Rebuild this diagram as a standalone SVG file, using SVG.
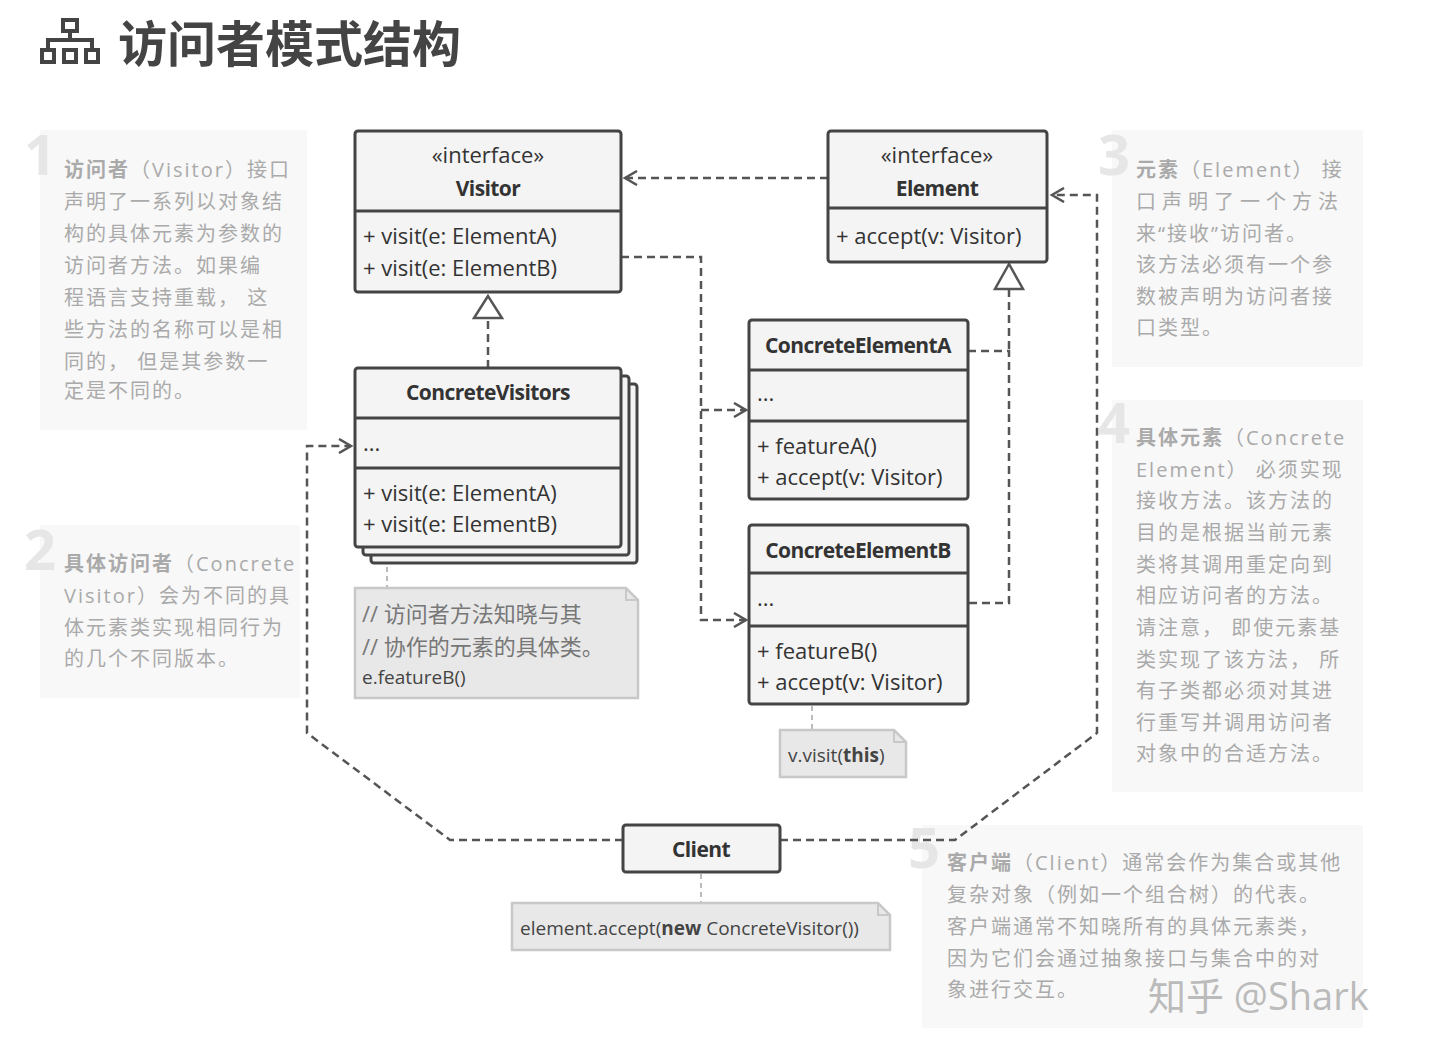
<svg xmlns="http://www.w3.org/2000/svg" width="1440" height="1047" viewBox="0 0 1440 1047">
<defs>
<style>
text{font-family:"Open Sans","Noto Sans CJK SC",sans-serif;}
.box{fill:#f4f4f4;stroke:#444;stroke-width:3;}
.div{stroke:#444;stroke-width:3;}
.t{font-size:22px;fill:#333;}
.b{font-size:21px;font-weight:bold;fill:#333;letter-spacing:-0.6px;}
.c{text-anchor:middle;}
.dash{fill:none;stroke:#555;stroke-width:2.5;stroke-dasharray:8 5;}
.dot{fill:none;stroke:#bbb;stroke-width:2;stroke-dasharray:5 4;}
.panel{fill:#f8f8f8;}
.num{font-size:56px;fill:#e6e6e6;font-weight:bold;}
.p{font-size:20px;fill:#aaa;letter-spacing:2px;}
.pb{font-weight:bold;}
.note{fill:#e8e8e8;stroke:#c8c8c8;stroke-width:2.5;}
.nt{font-size:22px;fill:#777;}
.tri{fill:#fff;stroke:#555;stroke-width:2.5;}
</style>
<marker id="arr" markerWidth="16" markerHeight="16" refX="13" refY="8" orient="auto" markerUnits="userSpaceOnUse"><path d="M1,1 L13,8 L1,15" fill="none" stroke="#555" stroke-width="2.5"/></marker>
</defs>
<rect width="1440" height="1047" fill="#fff"/>
<g id="title">
<g fill="none" stroke="#444" stroke-width="4">
<rect x="63" y="20" width="14" height="11"/><rect x="42" y="50" width="12" height="12"/><rect x="64" y="50" width="12" height="12"/><rect x="86" y="50" width="12" height="12"/>
<path d="M70 31V40M48 50V40H92V50"/>
</g>
<text x="118" y="62" font-size="49" font-weight="bold" fill="#444">访问者模式结构</text>
</g>
<g id="notes">
<rect class="panel" x="40" y="130" width="267" height="300"/>
<text class="num" x="24" y="175">1</text>
<g class="p"><text x="64" y="177"><tspan class="pb">访问者</tspan>（Visitor）接口</text><text x="64" y="209">声明了一系列以对象结</text><text x="64" y="241">构的具体元素为参数的</text><text x="64" y="273">访问者方法。如果编</text><text x="64" y="305">程语言支持重载， 这</text><text x="64" y="337">些方法的名称可以是相</text><text x="64" y="369">同的， 但是其参数一</text><text x="64" y="398">定是不同的。</text></g>
<rect class="panel" x="40" y="525" width="260" height="173"/>
<text class="num" x="24" y="570">2</text>
<g class="p"><text x="64" y="571"><tspan class="pb">具体访问者</tspan>（Concrete</text><text x="64" y="603">Visitor）会为不同的具</text><text x="64" y="635">体元素类实现相同行为</text><text x="64" y="666">的几个不同版本。</text></g>
<rect class="panel" x="1112" y="130" width="251" height="237"/>
<text class="num" x="1098" y="175">3</text>
<g class="p"><text x="1136" y="177"><tspan class="pb">元素</tspan>（Element） 接</text><text x="1136" y="209" letter-spacing="6">口声明了一个方法</text><text x="1136" y="241">来“接收”访问者。</text><text x="1136" y="272">该方法必须有一个参</text><text x="1136" y="304">数被声明为访问者接</text><text x="1136" y="335">口类型。</text></g>
<rect class="panel" x="1112" y="400" width="251" height="392"/>
<text class="num" x="1098" y="443">4</text>
<g class="p"><text x="1136" y="445"><tspan class="pb">具体元素</tspan>（Concrete</text><text x="1136" y="477">Element） 必须实现</text><text x="1136" y="508">接收方法。该方法的</text><text x="1136" y="540">目的是根据当前元素</text><text x="1136" y="572">类将其调用重定向到</text><text x="1136" y="603">相应访问者的方法。</text><text x="1136" y="635">请注意， 即使元素基</text><text x="1136" y="667">类实现了该方法， 所</text><text x="1136" y="698">有子类都必须对其进</text><text x="1136" y="730">行重写并调用访问者</text><text x="1136" y="761">对象中的合适方法。</text></g>
<rect class="panel" x="922" y="825" width="441" height="203"/>
<text class="num" x="908" y="868">5</text>
<g class="p"><text x="947" y="870"><tspan class="pb">客户端</tspan>（Client）通常会作为集合或其他</text><text x="947" y="902">复杂对象（例如一个组合树）的代表。</text><text x="947" y="934">客户端通常不知晓所有的具体元素类，</text><text x="947" y="966">因为它们会通过抽象接口与集合中的对</text><text x="947" y="997">象进行交互。</text></g>
<text x="1148" y="1010" font-size="38" fill="#bbb">知乎 @Shark</text>
</g>
<g id="connectors">
<path class="dash" d="M828 178H625" marker-end="url(#arr)"/>
<path class="dash" d="M621 257H701V620H746" marker-end="url(#arr)"/>
<path class="dash" d="M701 410H746" marker-end="url(#arr)"/>
<path class="dash" d="M488 368V318"/>
<path class="tri" d="M488 296L474 318H502Z"/>
<path class="dash" d="M968 351H1009V603H968"/>
<path class="dash" d="M1009 289V351"/>
<path class="tri" d="M1009 264L995 289H1023Z"/>
<path class="dash" d="M623 840H450L307 733V446H351" marker-end="url(#arr)"/>
<path class="dash" d="M780 840H955L1097 733V195H1052" marker-end="url(#arr)"/>
<path class="dot" d="M387 549V588"/>
<path class="dot" d="M812 706V730"/>
<path class="dot" d="M701 874V903"/>
</g>
<g id="Visitor">
<rect class="box" x="355" y="131" width="266" height="161" rx="3"/>
<line class="div" x1="355" y1="211" x2="621" y2="211"/>
<text class="t c" x="488" y="163">«interface»</text>
<text class="b c" x="488" y="196">Visitor</text>
<text class="t" x="363" y="244">+ visit(e: ElementA)</text>
<text class="t" x="363" y="276">+ visit(e: ElementB)</text>
</g>
<g id="ConcreteVisitors">
<rect class="box" x="371" y="384" width="266" height="179" rx="3"/>
<rect class="box" x="363" y="376" width="266" height="179" rx="3"/>
<rect class="box" x="355" y="368" width="266" height="179" rx="3"/>
<line class="div" x1="355" y1="418" x2="621" y2="418"/>
<line class="div" x1="355" y1="468" x2="621" y2="468"/>
<text class="b c" x="488" y="400">ConcreteVisitors</text>
<text class="t" x="363" y="451">...</text>
<text class="t" x="363" y="501">+ visit(e: ElementA)</text>
<text class="t" x="363" y="532">+ visit(e: ElementB)</text>
</g>
<g id="Element">
<rect class="box" x="828" y="131" width="219" height="131" rx="3"/>
<line class="div" x1="828" y1="208" x2="1047" y2="208"/>
<text class="t c" x="937" y="163">«interface»</text>
<text class="b c" x="937" y="196">Element</text>
<text class="t" x="836" y="244">+ accept(v: Visitor)</text>
</g>
<g id="ConcreteElementA">
<rect class="box" x="749" y="320" width="219" height="179" rx="3"/>
<line class="div" x1="749" y1="370" x2="968" y2="370"/>
<line class="div" x1="749" y1="421" x2="968" y2="421"/>
<text class="b c" x="858" y="353">ConcreteElementA</text>
<text class="t" x="757" y="401">...</text>
<text class="t" x="757" y="454">+ featureA()</text>
<text class="t" x="757" y="485">+ accept(v: Visitor)</text>
</g>
<g id="ConcreteElementB">
<rect class="box" x="749" y="525" width="219" height="179" rx="3"/>
<line class="div" x1="749" y1="573" x2="968" y2="573"/>
<line class="div" x1="749" y1="626" x2="968" y2="626"/>
<text class="b c" x="858" y="558">ConcreteElementB</text>
<text class="t" x="757" y="606">...</text>
<text class="t" x="757" y="659">+ featureB()</text>
<text class="t" x="757" y="690">+ accept(v: Visitor)</text>
</g>
<g id="Client">
<rect class="box" x="623" y="825" width="157" height="47" rx="3"/>
<text class="b c" x="701" y="857">Client</text>
</g>
<g id="note-visitor">
<path class="note" d="M355 588H626L638 600V698H355Z"/>
<path d="M626 588V600H638" fill="none" stroke="#c8c8c8" stroke-width="2"/>
<text class="nt" x="362" y="622">// 访问者方法知晓与其</text>
<text class="nt" x="362" y="655">// 协作的元素的具体类。</text>
<text x="362" y="684" font-size="19" fill="#444">e.featureB()</text>
</g>
<g id="note-visit">
<path class="note" d="M780 730H894L906 742V777H780Z"/>
<path d="M894 730V742H906" fill="none" stroke="#c8c8c8" stroke-width="2"/>
<text x="788" y="762" font-size="19" fill="#444">v.visit(<tspan font-weight="bold">this</tspan>)</text>
</g>
<g id="note-client">
<path class="note" d="M512 903H878L890 915V950H512Z"/>
<path d="M878 903V915H890" fill="none" stroke="#c8c8c8" stroke-width="2"/>
<text x="520" y="935" font-size="19" fill="#444">element.accept(<tspan font-weight="bold">new</tspan> ConcreteVisitor())</text>
</g>
</svg>
